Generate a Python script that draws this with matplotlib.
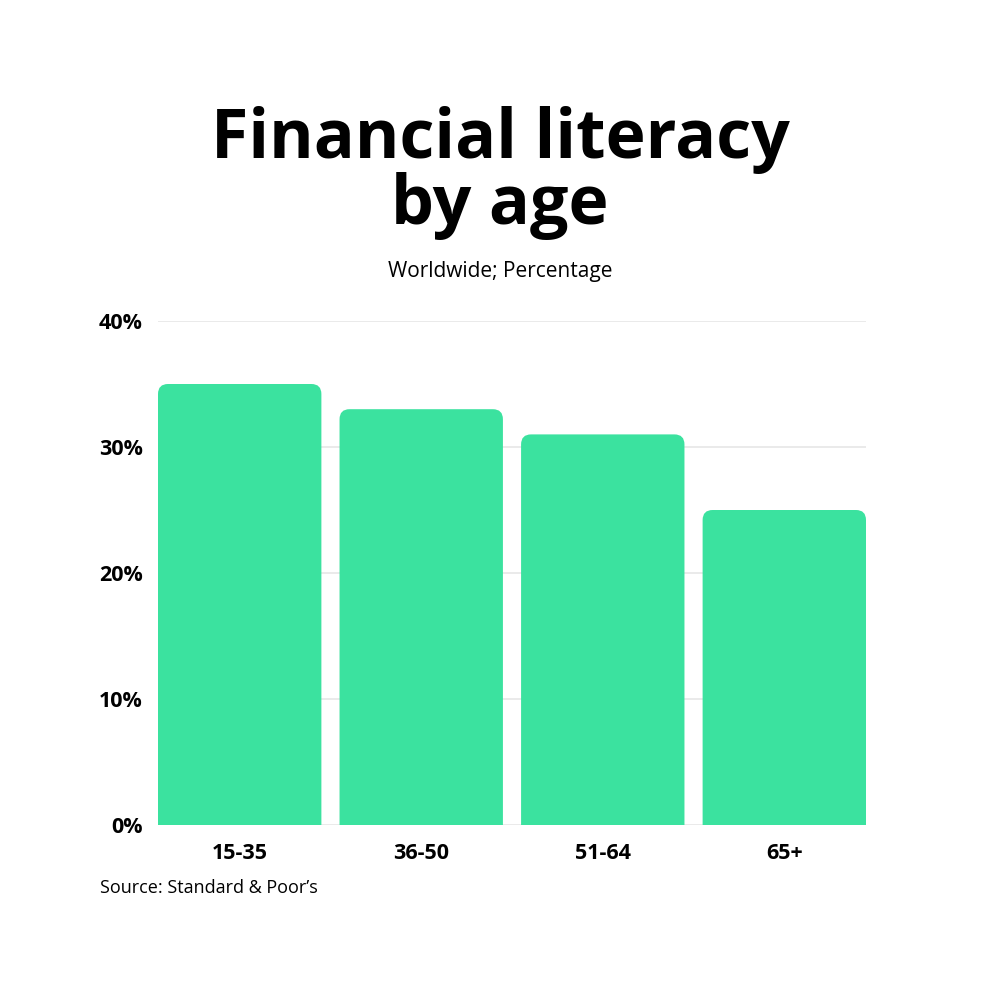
import matplotlib
matplotlib.use('Agg')
import matplotlib.pyplot as plt
from matplotlib.patches import FancyBboxPatch

# data
ages = ['15-35', '36-50', '51-64', '65+']
literacy = [35, 33, 31, 25]
yticks = [0, 10, 20, 30, 40]

bar_color = '#3be29f'

fig = plt.figure(figsize=(10, 10), dpi=100)
ax = fig.add_axes([0.158, 0.175, 0.708, 0.504])

bars = ax.bar(range(len(ages)), literacy, width=0.9, color=bar_color, zorder=2)

# swap the plain bars for ones with rounded tops
r = 0.055
aspect = (1 / 12.6) / (1 / 182)
for b in bars:
    x0, w, h = b.get_x(), b.get_width(), b.get_height()
    b.remove()
    p = FancyBboxPatch((x0, -3), w, h + 3,
                       boxstyle='round,pad=0,rounding_size=%f' % r,
                       mutation_aspect=aspect, fc=bar_color, ec='none', zorder=2)
    ax.add_patch(p)

ax.set_xlim(-0.45, len(ages) - 0.55)
ax.set_ylim(0, 40)
ax.set_yticks(yticks)
ax.set_yticklabels([f'{t}%' for t in yticks], fontfamily='Open Sans',
                   fontweight='bold', fontsize=15.5)
ax.set_xticks(range(len(ages)))
ax.set_xticklabels(ages, fontfamily='Open Sans', fontweight='bold', fontsize=15.5)
ax.tick_params(length=0)
ax.tick_params(axis='y', pad=11)
ax.tick_params(axis='x', pad=13)
ax.grid(axis='y', color='#e6e6e6', lw=1.2, zorder=0)
for s in ax.spines.values():
    s.set_visible(False)

fig.text(0.5, 0.86, 'Financial literacy', ha='center', va='center',
         fontfamily='Open Sans', fontweight='bold', fontsize=49)
fig.text(0.5, 0.794, 'by age', ha='center', va='center',
         fontfamily='Open Sans', fontweight='bold', fontsize=49)
fig.text(0.5, 0.728, 'Worldwide; Percentage', ha='center', va='center',
         fontfamily='Open Sans', fontsize=15)
fig.text(0.1, 0.112, 'Source: Standard & Poor\u2019s', ha='left', va='center',
         fontfamily='Open Sans', fontsize=13)

plt.savefig('out.png', facecolor='white')
